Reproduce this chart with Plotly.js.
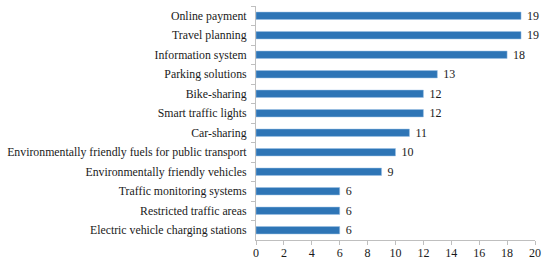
<!DOCTYPE html>
<html>
<head>
<meta charset="utf-8">
<script src="https://cdn.plot.ly/plotly-3.0.1.min.js"></script>
<style>html,body{margin:0;padding:0;background:#fff;}#chart{width:550px;height:266px;}</style>
</head>
<body>
<div id="chart"></div>
<script>
const categories = [
  "Online payment",
  "Travel planning",
  "Information system",
  "Parking solutions",
  "Bike-sharing",
  "Smart traffic lights",
  "Car-sharing",
  "Environmentally friendly fuels for public transport",
  "Environmentally friendly vehicles",
  "Traffic monitoring systems",
  "Restricted traffic areas",
  "Electric vehicle charging stations"
];
const values = [19, 19, 18, 13, 12, 12, 11, 10, 9, 6, 6, 6];
const xTicks = [0, 2, 4, 6, 8, 10, 12, 14, 16, 18, 20];

const font = {family: "'Liberation Serif', 'Times New Roman', serif", size: 12, color: "#1a1a1a"};
const labelFont = {family: "'Liberation Serif', 'Times New Roman', serif", size: 11.8, color: "#1a1a1a"};

Plotly.newPlot("chart", [{
  type: "bar",
  orientation: "h",
  x: values,
  y: categories,
  width: 0.38,
  marker: {color: "#2E75B6", line: {color: "#9DC3E6", width: 0.5}},
  texttemplate: " %{x}",
  textposition: "outside",
  constraintext: "none",
  cliponaxis: false,
  textfont: font,
  hoverinfo: "none"
}], {
  width: 550,
  height: 266,
  margin: {l: 256, r: 15, t: 6, b: 26},
  paper_bgcolor: "#fff",
  plot_bgcolor: "#fff",
  font: font,
  showlegend: false,
  xaxis: {
    range: [0, 20],
    tickvals: xTicks,
    ticktext: xTicks.map(String),
    ticks: "outside",
    ticklen: 4,
    ticklabelstandoff: -2,
    tickcolor: "#BFBFBF",
    showline: true,
    linecolor: "#BFBFBF",
    linewidth: 1,
    showgrid: false,
    zeroline: false,
    tickfont: font
  },
  yaxis: {
    type: "category",
    autorange: "reversed",
    ticks: "outside",
    tickson: "boundaries",
    ticklen: 4,
    ticklabelstandoff: 6,
    tickcolor: "#BFBFBF",
    showline: true,
    linecolor: "#BFBFBF",
    linewidth: 1,
    showgrid: false,
    zeroline: false,
    tickfont: labelFont
  }
}, {staticPlot: true, displayModeBar: false});
</script>
</body>
</html>
